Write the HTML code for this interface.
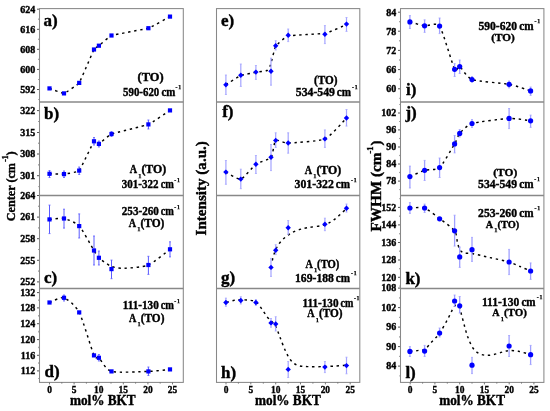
<!DOCTYPE html>
<html><head><meta charset="utf-8"><title>Figure</title><style>html,body{margin:0;padding:0;background:#fff;width:550px;height:411px;overflow:hidden}svg{display:block;filter:blur(0.3px)}</style></head><body>
<svg width="550" height="411" viewBox="0 0 550 411">
<rect width="550" height="411" fill="#ffffff"/>
<style>text{font-family:'Liberation Serif','Times New Roman',serif;font-weight:bold; fill:#000;stroke:#000;stroke-width:0.4px}.tk{font-size:10px}.lt{font-size:17px}.ax{font-size:13.5px}.sup{font-size:5.8px;letter-spacing:0.8px;stroke-width:0.25px}</style>
<line x1="37.0" y1="9.2" x2="39.5" y2="9.2" stroke="#555" stroke-width="1"/>
<text class="tk" x="35.3" y="12.5" text-anchor="end">624</text>
<line x1="37.0" y1="29.3" x2="39.5" y2="29.3" stroke="#555" stroke-width="1"/>
<text class="tk" x="35.3" y="32.6" text-anchor="end">616</text>
<line x1="37.0" y1="49.3" x2="39.5" y2="49.3" stroke="#555" stroke-width="1"/>
<text class="tk" x="35.3" y="52.6" text-anchor="end">608</text>
<line x1="37.0" y1="69.4" x2="39.5" y2="69.4" stroke="#555" stroke-width="1"/>
<text class="tk" x="35.3" y="72.7" text-anchor="end">600</text>
<line x1="37.0" y1="89.5" x2="39.5" y2="89.5" stroke="#555" stroke-width="1"/>
<text class="tk" x="35.3" y="92.8" text-anchor="end">592</text>
<line x1="38.0" y1="19.2" x2="39.5" y2="19.2" stroke="#999" stroke-width="0.8"/>
<line x1="38.0" y1="19.2" x2="39.5" y2="19.2" stroke="#999" stroke-width="0.8"/>
<line x1="38.0" y1="39.4" x2="39.5" y2="39.4" stroke="#999" stroke-width="0.8"/>
<line x1="38.0" y1="39.2" x2="39.5" y2="39.2" stroke="#999" stroke-width="0.8"/>
<line x1="38.0" y1="59.3" x2="39.5" y2="59.3" stroke="#999" stroke-width="0.8"/>
<line x1="38.0" y1="59.4" x2="39.5" y2="59.4" stroke="#999" stroke-width="0.8"/>
<line x1="38.0" y1="79.5" x2="39.5" y2="79.5" stroke="#999" stroke-width="0.8"/>
<line x1="38.0" y1="79.5" x2="39.5" y2="79.5" stroke="#999" stroke-width="0.8"/>
<line x1="38.0" y1="99.5" x2="39.5" y2="99.5" stroke="#999" stroke-width="0.8"/>
<path d="M49.5,88.4 C50.0,88.6 63.0,93.6 64.0,93.4 C65.0,93.2 78.2,84.4 79.2,82.9 C80.2,81.4 93.3,50.7 94.0,49.5 C94.7,48.3 98.3,46.2 98.9,45.7 C99.5,45.2 109.8,36.1 111.5,35.5 C113.2,34.9 146.5,28.8 148.4,28.2 C150.3,27.6 169.3,17.0 170.0,16.6" fill="none" stroke="#000" stroke-width="1.45" stroke-dasharray="2.4 3.7"/>
<rect x="47.4" y="86.3" width="4.2" height="4.2" fill="#0000ff"/>
<rect x="61.9" y="91.3" width="4.2" height="4.2" fill="#0000ff"/>
<rect x="77.1" y="80.8" width="4.2" height="4.2" fill="#0000ff"/>
<rect x="91.9" y="47.4" width="4.2" height="4.2" fill="#0000ff"/>
<rect x="96.8" y="43.6" width="4.2" height="4.2" fill="#0000ff"/>
<rect x="109.4" y="33.4" width="4.2" height="4.2" fill="#0000ff"/>
<rect x="146.3" y="26.1" width="4.2" height="4.2" fill="#0000ff"/>
<rect x="167.9" y="14.5" width="4.2" height="4.2" fill="#0000ff"/>
<text class="lt" x="43.4" y="25.5">a)</text>
<text class="an" style="font-size:11.60px" x="137.60" y="81.40" textLength="26.10" lengthAdjust="spacingAndGlyphs">(TO)</text>
<text class="an" style="font-size:12.40px" x="123.05" y="95.80" textLength="36.20" lengthAdjust="spacingAndGlyphs">590-620</text>
<text class="an" style="font-size:12.40px" x="161.45" y="95.80" textLength="13.90" lengthAdjust="spacingAndGlyphs">cm</text>
<text class="sup" x="175.60" y="89.40">-1</text>
<line x1="37.0" y1="110.6" x2="39.5" y2="110.6" stroke="#555" stroke-width="1"/>
<text class="tk" x="35.3" y="113.9" text-anchor="end">322</text>
<line x1="37.0" y1="132.5" x2="39.5" y2="132.5" stroke="#555" stroke-width="1"/>
<text class="tk" x="35.3" y="135.8" text-anchor="end">315</text>
<line x1="37.0" y1="154.0" x2="39.5" y2="154.0" stroke="#555" stroke-width="1"/>
<text class="tk" x="35.3" y="157.3" text-anchor="end">308</text>
<line x1="37.0" y1="175.7" x2="39.5" y2="175.7" stroke="#555" stroke-width="1"/>
<text class="tk" x="35.3" y="179.0" text-anchor="end">301</text>
<line x1="38.0" y1="121.5" x2="39.5" y2="121.5" stroke="#999" stroke-width="0.8"/>
<line x1="38.0" y1="121.5" x2="39.5" y2="121.5" stroke="#999" stroke-width="0.8"/>
<line x1="38.0" y1="143.4" x2="39.5" y2="143.4" stroke="#999" stroke-width="0.8"/>
<line x1="38.0" y1="143.1" x2="39.5" y2="143.1" stroke="#999" stroke-width="0.8"/>
<line x1="38.0" y1="164.9" x2="39.5" y2="164.9" stroke="#999" stroke-width="0.8"/>
<line x1="38.0" y1="164.8" x2="39.5" y2="164.8" stroke="#999" stroke-width="0.8"/>
<line x1="38.0" y1="186.6" x2="39.5" y2="186.6" stroke="#999" stroke-width="0.8"/>
<path d="M49.5,173.8 C50.2,173.8 62.5,174.3 64.0,174.1 C65.5,173.9 77.7,172.2 79.2,170.6 C80.7,169.0 93.0,142.6 94.0,141.3 C95.0,140.0 98.0,144.3 98.9,143.9 C99.8,143.5 109.0,135.0 111.5,134.0 C114.0,133.0 145.5,125.6 148.4,124.4 C151.3,123.2 168.9,111.1 170.0,110.4" fill="none" stroke="#000" stroke-width="1.45" stroke-dasharray="2.4 3.7"/>
<line x1="49.5" y1="170.5" x2="49.5" y2="177.5" stroke="#5a5aff" stroke-width="1.0"/>
<line x1="48.5" y1="170.5" x2="50.5" y2="170.5" stroke="#5a5aff" stroke-width="0.8"/>
<line x1="48.5" y1="177.5" x2="50.5" y2="177.5" stroke="#5a5aff" stroke-width="0.8"/>
<line x1="64.0" y1="171.0" x2="64.0" y2="177.5" stroke="#5a5aff" stroke-width="1.0"/>
<line x1="63.0" y1="171.0" x2="65.0" y2="171.0" stroke="#5a5aff" stroke-width="0.8"/>
<line x1="63.0" y1="177.5" x2="65.0" y2="177.5" stroke="#5a5aff" stroke-width="0.8"/>
<line x1="79.2" y1="167.0" x2="79.2" y2="174.5" stroke="#5a5aff" stroke-width="1.0"/>
<line x1="78.2" y1="167.0" x2="80.2" y2="167.0" stroke="#5a5aff" stroke-width="0.8"/>
<line x1="78.2" y1="174.5" x2="80.2" y2="174.5" stroke="#5a5aff" stroke-width="0.8"/>
<line x1="94.0" y1="137.5" x2="94.0" y2="145.0" stroke="#5a5aff" stroke-width="1.0"/>
<line x1="93.0" y1="137.5" x2="95.0" y2="137.5" stroke="#5a5aff" stroke-width="0.8"/>
<line x1="93.0" y1="145.0" x2="95.0" y2="145.0" stroke="#5a5aff" stroke-width="0.8"/>
<line x1="98.9" y1="141.0" x2="98.9" y2="147.0" stroke="#5a5aff" stroke-width="1.0"/>
<line x1="97.9" y1="141.0" x2="99.9" y2="141.0" stroke="#5a5aff" stroke-width="0.8"/>
<line x1="97.9" y1="147.0" x2="99.9" y2="147.0" stroke="#5a5aff" stroke-width="0.8"/>
<line x1="111.5" y1="131.5" x2="111.5" y2="136.5" stroke="#5a5aff" stroke-width="1.0"/>
<line x1="110.5" y1="131.5" x2="112.5" y2="131.5" stroke="#5a5aff" stroke-width="0.8"/>
<line x1="110.5" y1="136.5" x2="112.5" y2="136.5" stroke="#5a5aff" stroke-width="0.8"/>
<line x1="148.4" y1="120.0" x2="148.4" y2="129.0" stroke="#5a5aff" stroke-width="1.0"/>
<line x1="147.4" y1="120.0" x2="149.4" y2="120.0" stroke="#5a5aff" stroke-width="0.8"/>
<line x1="147.4" y1="129.0" x2="149.4" y2="129.0" stroke="#5a5aff" stroke-width="0.8"/>
<rect x="47.4" y="171.7" width="4.2" height="4.2" fill="#0000ff"/>
<rect x="61.9" y="172.0" width="4.2" height="4.2" fill="#0000ff"/>
<rect x="77.1" y="168.5" width="4.2" height="4.2" fill="#0000ff"/>
<rect x="91.9" y="139.2" width="4.2" height="4.2" fill="#0000ff"/>
<rect x="96.8" y="141.8" width="4.2" height="4.2" fill="#0000ff"/>
<rect x="109.4" y="131.9" width="4.2" height="4.2" fill="#0000ff"/>
<rect x="146.3" y="122.3" width="4.2" height="4.2" fill="#0000ff"/>
<rect x="167.9" y="108.3" width="4.2" height="4.2" fill="#0000ff"/>
<text class="lt" x="44.0" y="119.0">b)</text>
<text class="an" style="font-size:11.60px" x="129.70" y="173.20" textLength="7.3" lengthAdjust="spacingAndGlyphs">A</text>
<text class="an" style="font-size:6.4px;stroke-width:0.25px" x="138.20" y="177.80">1</text>
<text class="an" style="font-size:11.60px" x="141.40" y="173.20" textLength="24.90" lengthAdjust="spacingAndGlyphs">(TO)</text>
<text class="an" style="font-size:12.40px" x="121.75" y="187.80" textLength="36.80" lengthAdjust="spacingAndGlyphs">301-322</text>
<text class="an" style="font-size:12.40px" x="160.75" y="187.80" textLength="13.10" lengthAdjust="spacingAndGlyphs">cm</text>
<text class="sup" x="174.20" y="181.80">-1</text>
<line x1="37.0" y1="195.5" x2="39.5" y2="195.5" stroke="#555" stroke-width="1"/>
<text class="tk" x="35.3" y="198.8" text-anchor="end">264</text>
<line x1="37.0" y1="217.1" x2="39.5" y2="217.1" stroke="#555" stroke-width="1"/>
<text class="tk" x="35.3" y="220.4" text-anchor="end">261</text>
<line x1="37.0" y1="238.7" x2="39.5" y2="238.7" stroke="#555" stroke-width="1"/>
<text class="tk" x="35.3" y="242.0" text-anchor="end">258</text>
<line x1="37.0" y1="260.3" x2="39.5" y2="260.3" stroke="#555" stroke-width="1"/>
<text class="tk" x="35.3" y="263.6" text-anchor="end">255</text>
<line x1="37.0" y1="281.9" x2="39.5" y2="281.9" stroke="#555" stroke-width="1"/>
<text class="tk" x="35.3" y="285.2" text-anchor="end">252</text>
<line x1="38.0" y1="206.3" x2="39.5" y2="206.3" stroke="#999" stroke-width="0.8"/>
<line x1="38.0" y1="206.3" x2="39.5" y2="206.3" stroke="#999" stroke-width="0.8"/>
<line x1="38.0" y1="227.9" x2="39.5" y2="227.9" stroke="#999" stroke-width="0.8"/>
<line x1="38.0" y1="227.9" x2="39.5" y2="227.9" stroke="#999" stroke-width="0.8"/>
<line x1="38.0" y1="249.5" x2="39.5" y2="249.5" stroke="#999" stroke-width="0.8"/>
<line x1="38.0" y1="249.5" x2="39.5" y2="249.5" stroke="#999" stroke-width="0.8"/>
<line x1="38.0" y1="271.1" x2="39.5" y2="271.1" stroke="#999" stroke-width="0.8"/>
<line x1="38.0" y1="271.1" x2="39.5" y2="271.1" stroke="#999" stroke-width="0.8"/>
<path d="M49.5,219.4 C51.2,219.3 60.5,217.7 64.0,218.5 C67.5,219.3 75.7,222.4 79.2,226.1 C82.7,229.8 91.7,246.8 94.0,250.5 C96.3,254.2 96.9,255.9 98.9,257.8 C100.9,259.7 108.5,265.3 111.5,266.5 C114.5,267.7 120.7,268.4 125.0,268.2 C129.3,268.0 143.2,267.2 148.4,265.0 C153.7,262.8 167.5,251.1 170.0,249.3" fill="none" stroke="#000" stroke-width="1.45" stroke-dasharray="2.4 3.7"/>
<line x1="49.5" y1="205.1" x2="49.5" y2="233.6" stroke="#5a5aff" stroke-width="1.0"/>
<line x1="48.5" y1="205.1" x2="50.5" y2="205.1" stroke="#5a5aff" stroke-width="0.8"/>
<line x1="48.5" y1="233.6" x2="50.5" y2="233.6" stroke="#5a5aff" stroke-width="0.8"/>
<line x1="64.0" y1="209.2" x2="64.0" y2="228.1" stroke="#5a5aff" stroke-width="1.0"/>
<line x1="63.0" y1="209.2" x2="65.0" y2="209.2" stroke="#5a5aff" stroke-width="0.8"/>
<line x1="63.0" y1="228.1" x2="65.0" y2="228.1" stroke="#5a5aff" stroke-width="0.8"/>
<line x1="79.2" y1="213.9" x2="79.2" y2="238.0" stroke="#5a5aff" stroke-width="1.0"/>
<line x1="78.2" y1="213.9" x2="80.2" y2="213.9" stroke="#5a5aff" stroke-width="0.8"/>
<line x1="78.2" y1="238.0" x2="80.2" y2="238.0" stroke="#5a5aff" stroke-width="0.8"/>
<line x1="94.0" y1="236.0" x2="94.0" y2="265.0" stroke="#5a5aff" stroke-width="1.0"/>
<line x1="93.0" y1="236.0" x2="95.0" y2="236.0" stroke="#5a5aff" stroke-width="0.8"/>
<line x1="93.0" y1="265.0" x2="95.0" y2="265.0" stroke="#5a5aff" stroke-width="0.8"/>
<line x1="98.9" y1="251.0" x2="98.9" y2="265.0" stroke="#5a5aff" stroke-width="1.0"/>
<line x1="97.9" y1="251.0" x2="99.9" y2="251.0" stroke="#5a5aff" stroke-width="0.8"/>
<line x1="97.9" y1="265.0" x2="99.9" y2="265.0" stroke="#5a5aff" stroke-width="0.8"/>
<line x1="111.5" y1="260.1" x2="111.5" y2="278.7" stroke="#5a5aff" stroke-width="1.0"/>
<line x1="110.5" y1="260.1" x2="112.5" y2="260.1" stroke="#5a5aff" stroke-width="0.8"/>
<line x1="110.5" y1="278.7" x2="112.5" y2="278.7" stroke="#5a5aff" stroke-width="0.8"/>
<line x1="148.4" y1="256.3" x2="148.4" y2="274.4" stroke="#5a5aff" stroke-width="1.0"/>
<line x1="147.4" y1="256.3" x2="149.4" y2="256.3" stroke="#5a5aff" stroke-width="0.8"/>
<line x1="147.4" y1="274.4" x2="149.4" y2="274.4" stroke="#5a5aff" stroke-width="0.8"/>
<line x1="170.0" y1="241.8" x2="170.0" y2="256.9" stroke="#5a5aff" stroke-width="1.0"/>
<line x1="169.0" y1="241.8" x2="171.0" y2="241.8" stroke="#5a5aff" stroke-width="0.8"/>
<line x1="169.0" y1="256.9" x2="171.0" y2="256.9" stroke="#5a5aff" stroke-width="0.8"/>
<rect x="47.4" y="217.3" width="4.2" height="4.2" fill="#0000ff"/>
<rect x="61.9" y="216.4" width="4.2" height="4.2" fill="#0000ff"/>
<rect x="77.1" y="224.0" width="4.2" height="4.2" fill="#0000ff"/>
<rect x="91.9" y="248.4" width="4.2" height="4.2" fill="#0000ff"/>
<rect x="96.8" y="255.7" width="4.2" height="4.2" fill="#0000ff"/>
<rect x="109.4" y="267.0" width="4.2" height="4.2" fill="#0000ff"/>
<rect x="146.3" y="262.9" width="4.2" height="4.2" fill="#0000ff"/>
<rect x="167.9" y="247.2" width="4.2" height="4.2" fill="#0000ff"/>
<text class="lt" x="44.0" y="282.5">c)</text>
<text class="an" style="font-size:12.40px" x="121.75" y="214.90" textLength="37.10" lengthAdjust="spacingAndGlyphs">253-260</text>
<text class="an" style="font-size:12.40px" x="160.75" y="214.90" textLength="13.10" lengthAdjust="spacingAndGlyphs">cm</text>
<text class="sup" x="174.20" y="208.80">-1</text>
<text class="an" style="font-size:11.60px" x="128.80" y="226.70" textLength="7.3" lengthAdjust="spacingAndGlyphs">A</text>
<text class="an" style="font-size:6.4px;stroke-width:0.25px" x="137.30" y="231.30">1</text>
<text class="an" style="font-size:11.60px" x="140.50" y="226.70" textLength="23.90" lengthAdjust="spacingAndGlyphs">(TO)</text>
<line x1="37.0" y1="292.6" x2="39.5" y2="292.6" stroke="#555" stroke-width="1"/>
<text class="tk" x="35.3" y="295.9" text-anchor="end">132</text>
<line x1="37.0" y1="307.9" x2="39.5" y2="307.9" stroke="#555" stroke-width="1"/>
<text class="tk" x="35.3" y="311.2" text-anchor="end">128</text>
<line x1="37.0" y1="323.7" x2="39.5" y2="323.7" stroke="#555" stroke-width="1"/>
<text class="tk" x="35.3" y="327.0" text-anchor="end">124</text>
<line x1="37.0" y1="339.6" x2="39.5" y2="339.6" stroke="#555" stroke-width="1"/>
<text class="tk" x="35.3" y="342.9" text-anchor="end">120</text>
<line x1="37.0" y1="355.3" x2="39.5" y2="355.3" stroke="#555" stroke-width="1"/>
<text class="tk" x="35.3" y="358.6" text-anchor="end">116</text>
<line x1="37.0" y1="370.9" x2="39.5" y2="370.9" stroke="#555" stroke-width="1"/>
<text class="tk" x="35.3" y="374.2" text-anchor="end">112</text>
<line x1="38.0" y1="300.2" x2="39.5" y2="300.2" stroke="#999" stroke-width="0.8"/>
<line x1="38.0" y1="300.2" x2="39.5" y2="300.2" stroke="#999" stroke-width="0.8"/>
<line x1="38.0" y1="315.5" x2="39.5" y2="315.5" stroke="#999" stroke-width="0.8"/>
<line x1="38.0" y1="316.1" x2="39.5" y2="316.1" stroke="#999" stroke-width="0.8"/>
<line x1="38.0" y1="331.3" x2="39.5" y2="331.3" stroke="#999" stroke-width="0.8"/>
<line x1="38.0" y1="332.0" x2="39.5" y2="332.0" stroke="#999" stroke-width="0.8"/>
<line x1="38.0" y1="347.2" x2="39.5" y2="347.2" stroke="#999" stroke-width="0.8"/>
<line x1="38.0" y1="347.7" x2="39.5" y2="347.7" stroke="#999" stroke-width="0.8"/>
<line x1="38.0" y1="362.9" x2="39.5" y2="362.9" stroke="#999" stroke-width="0.8"/>
<line x1="38.0" y1="363.2" x2="39.5" y2="363.2" stroke="#999" stroke-width="0.8"/>
<line x1="38.0" y1="378.5" x2="39.5" y2="378.5" stroke="#999" stroke-width="0.8"/>
<path d="M49.5,302.5 C51.2,302.0 60.5,296.6 64.0,297.8 C67.5,299.0 75.7,305.7 79.2,312.4 C82.7,319.1 91.7,350.1 94.0,355.4 C96.3,360.7 96.9,355.9 98.9,357.8 C100.9,359.7 105.7,369.8 111.5,371.4 C117.3,373.0 141.6,371.6 148.4,371.4 C155.2,371.2 167.5,369.6 170.0,369.4" fill="none" stroke="#000" stroke-width="1.45" stroke-dasharray="2.4 3.7"/>
<line x1="64.0" y1="295.0" x2="64.0" y2="301.0" stroke="#5a5aff" stroke-width="1.0"/>
<line x1="63.0" y1="295.0" x2="65.0" y2="295.0" stroke="#5a5aff" stroke-width="0.8"/>
<line x1="63.0" y1="301.0" x2="65.0" y2="301.0" stroke="#5a5aff" stroke-width="0.8"/>
<line x1="98.9" y1="354.5" x2="98.9" y2="361.0" stroke="#5a5aff" stroke-width="1.0"/>
<line x1="97.9" y1="354.5" x2="99.9" y2="354.5" stroke="#5a5aff" stroke-width="0.8"/>
<line x1="97.9" y1="361.0" x2="99.9" y2="361.0" stroke="#5a5aff" stroke-width="0.8"/>
<line x1="148.4" y1="367.0" x2="148.4" y2="375.5" stroke="#5a5aff" stroke-width="1.0"/>
<line x1="147.4" y1="367.0" x2="149.4" y2="367.0" stroke="#5a5aff" stroke-width="0.8"/>
<line x1="147.4" y1="375.5" x2="149.4" y2="375.5" stroke="#5a5aff" stroke-width="0.8"/>
<rect x="47.4" y="300.4" width="4.2" height="4.2" fill="#0000ff"/>
<rect x="61.9" y="295.7" width="4.2" height="4.2" fill="#0000ff"/>
<rect x="77.1" y="310.3" width="4.2" height="4.2" fill="#0000ff"/>
<rect x="91.9" y="353.3" width="4.2" height="4.2" fill="#0000ff"/>
<rect x="96.8" y="355.7" width="4.2" height="4.2" fill="#0000ff"/>
<rect x="109.4" y="369.3" width="4.2" height="4.2" fill="#0000ff"/>
<rect x="146.3" y="369.3" width="4.2" height="4.2" fill="#0000ff"/>
<rect x="167.9" y="367.3" width="4.2" height="4.2" fill="#0000ff"/>
<text class="lt" x="44.5" y="377.3">d)</text>
<text class="an" style="font-size:12.40px" x="122.65" y="309.10" textLength="36.20" lengthAdjust="spacingAndGlyphs">111-130</text>
<text class="an" style="font-size:12.40px" x="160.65" y="309.10" textLength="13.20" lengthAdjust="spacingAndGlyphs">cm</text>
<text class="sup" x="174.20" y="302.50">-1</text>
<text class="an" style="font-size:11.60px" x="129.10" y="321.80" textLength="7.3" lengthAdjust="spacingAndGlyphs">A</text>
<text class="an" style="font-size:6.4px;stroke-width:0.25px" x="137.60" y="326.40">1</text>
<text class="an" style="font-size:11.60px" x="140.80" y="321.80" textLength="23.60" lengthAdjust="spacingAndGlyphs">(TO)</text>
<path d="M225.9,84.7 C226.9,84.1 238.8,76.3 240.8,75.5 C242.8,74.7 254.2,72.6 255.9,72.3 C257.6,72.0 266.0,71.0 267.0,70.5 C268.0,70.0 269.9,66.6 270.5,65.0 C271.1,63.4 274.5,48.4 275.7,46.5 C276.9,44.6 284.9,36.9 288.2,36.0 C291.5,35.1 321.5,34.0 325.4,33.2 C329.3,32.4 345.2,25.1 346.6,24.5" fill="none" stroke="#000" stroke-width="1.45" stroke-dasharray="2.4 3.7"/>
<line x1="225.9" y1="75.0" x2="225.9" y2="94.5" stroke="#a4a4ff" stroke-width="1.2"/>
<line x1="224.9" y1="75.0" x2="226.9" y2="75.0" stroke="#a4a4ff" stroke-width="0.8"/>
<line x1="224.9" y1="94.5" x2="226.9" y2="94.5" stroke="#a4a4ff" stroke-width="0.8"/>
<line x1="240.8" y1="64.0" x2="240.8" y2="86.4" stroke="#a4a4ff" stroke-width="1.2"/>
<line x1="239.8" y1="64.0" x2="241.8" y2="64.0" stroke="#a4a4ff" stroke-width="0.8"/>
<line x1="239.8" y1="86.4" x2="241.8" y2="86.4" stroke="#a4a4ff" stroke-width="0.8"/>
<line x1="255.9" y1="65.5" x2="255.9" y2="79.4" stroke="#a4a4ff" stroke-width="1.2"/>
<line x1="254.9" y1="65.5" x2="256.9" y2="65.5" stroke="#a4a4ff" stroke-width="0.8"/>
<line x1="254.9" y1="79.4" x2="256.9" y2="79.4" stroke="#a4a4ff" stroke-width="0.8"/>
<line x1="271.0" y1="58.2" x2="271.0" y2="85.2" stroke="#a4a4ff" stroke-width="1.2"/>
<line x1="270.0" y1="58.2" x2="272.0" y2="58.2" stroke="#a4a4ff" stroke-width="0.8"/>
<line x1="270.0" y1="85.2" x2="272.0" y2="85.2" stroke="#a4a4ff" stroke-width="0.8"/>
<line x1="275.7" y1="40.7" x2="275.7" y2="50.0" stroke="#a4a4ff" stroke-width="1.2"/>
<line x1="274.7" y1="40.7" x2="276.7" y2="40.7" stroke="#a4a4ff" stroke-width="0.8"/>
<line x1="274.7" y1="50.0" x2="276.7" y2="50.0" stroke="#a4a4ff" stroke-width="0.8"/>
<line x1="288.2" y1="29.0" x2="288.2" y2="41.6" stroke="#a4a4ff" stroke-width="1.2"/>
<line x1="287.2" y1="29.0" x2="289.2" y2="29.0" stroke="#a4a4ff" stroke-width="0.8"/>
<line x1="287.2" y1="41.6" x2="289.2" y2="41.6" stroke="#a4a4ff" stroke-width="0.8"/>
<line x1="324.9" y1="25.6" x2="324.9" y2="43.6" stroke="#a4a4ff" stroke-width="1.2"/>
<line x1="323.9" y1="25.6" x2="325.9" y2="25.6" stroke="#a4a4ff" stroke-width="0.8"/>
<line x1="323.9" y1="43.6" x2="325.9" y2="43.6" stroke="#a4a4ff" stroke-width="0.8"/>
<line x1="346.5" y1="17.5" x2="346.5" y2="31.4" stroke="#a4a4ff" stroke-width="1.2"/>
<line x1="345.5" y1="17.5" x2="347.5" y2="17.5" stroke="#a4a4ff" stroke-width="0.8"/>
<line x1="345.5" y1="31.4" x2="347.5" y2="31.4" stroke="#a4a4ff" stroke-width="0.8"/>
<path d="M225.9,82.0 L228.6,84.7 L225.9,87.4 L223.2,84.7 Z" fill="#0000ff"/>
<path d="M240.8,72.6 L243.5,75.3 L240.8,78.0 L238.1,75.3 Z" fill="#0000ff"/>
<path d="M255.9,69.4 L258.6,72.1 L255.9,74.8 L253.2,72.1 Z" fill="#0000ff"/>
<path d="M271.0,68.6 L273.7,71.3 L271.0,74.0 L268.3,71.3 Z" fill="#0000ff"/>
<path d="M275.7,43.0 L278.4,45.7 L275.7,48.4 L273.0,45.7 Z" fill="#0000ff"/>
<path d="M288.2,32.5 L290.9,35.2 L288.2,37.9 L285.5,35.2 Z" fill="#0000ff"/>
<path d="M324.9,31.6 L327.6,34.3 L324.9,37.0 L322.2,34.3 Z" fill="#0000ff"/>
<path d="M346.5,21.4 L349.2,24.1 L346.5,26.8 L343.8,24.1 Z" fill="#0000ff"/>
<text class="lt" x="220.9" y="26.0">e)</text>
<text class="an" style="font-size:11.60px" x="313.90" y="84.00" textLength="23.50" lengthAdjust="spacingAndGlyphs">(TO)</text>
<text class="an" style="font-size:12.40px" x="295.85" y="96.10" textLength="39.10" lengthAdjust="spacingAndGlyphs">534-549</text>
<text class="an" style="font-size:12.40px" x="336.85" y="96.10" textLength="14.20" lengthAdjust="spacingAndGlyphs">cm</text>
<text class="sup" x="352.10" y="89.10">-1</text>
<path d="M225.9,172.1 C227.4,172.8 237.8,179.9 240.8,179.1 C243.8,178.3 252.9,166.4 255.9,164.2 C258.9,162.0 269.0,159.7 271.0,157.3 C273.0,154.9 274.0,141.8 275.7,140.4 C277.4,139.0 283.3,143.2 288.2,143.0 C293.1,142.8 319.1,141.4 324.9,138.9 C330.7,136.4 344.3,120.1 346.5,118.0" fill="none" stroke="#000" stroke-width="1.45" stroke-dasharray="2.4 3.7"/>
<line x1="225.9" y1="160.5" x2="225.9" y2="184.3" stroke="#a4a4ff" stroke-width="1.2"/>
<line x1="224.9" y1="160.5" x2="226.9" y2="160.5" stroke="#a4a4ff" stroke-width="0.8"/>
<line x1="224.9" y1="184.3" x2="226.9" y2="184.3" stroke="#a4a4ff" stroke-width="0.8"/>
<line x1="240.8" y1="169.2" x2="240.8" y2="188.7" stroke="#a4a4ff" stroke-width="1.2"/>
<line x1="239.8" y1="169.2" x2="241.8" y2="169.2" stroke="#a4a4ff" stroke-width="0.8"/>
<line x1="239.8" y1="188.7" x2="241.8" y2="188.7" stroke="#a4a4ff" stroke-width="0.8"/>
<line x1="255.9" y1="155.5" x2="255.9" y2="173.5" stroke="#a4a4ff" stroke-width="1.2"/>
<line x1="254.9" y1="155.5" x2="256.9" y2="155.5" stroke="#a4a4ff" stroke-width="0.8"/>
<line x1="254.9" y1="173.5" x2="256.9" y2="173.5" stroke="#a4a4ff" stroke-width="0.8"/>
<line x1="271.0" y1="144.5" x2="271.0" y2="170.6" stroke="#a4a4ff" stroke-width="1.2"/>
<line x1="270.0" y1="144.5" x2="272.0" y2="144.5" stroke="#a4a4ff" stroke-width="0.8"/>
<line x1="270.0" y1="170.6" x2="272.0" y2="170.6" stroke="#a4a4ff" stroke-width="0.8"/>
<line x1="275.7" y1="132.8" x2="275.7" y2="147.4" stroke="#a4a4ff" stroke-width="1.2"/>
<line x1="274.7" y1="132.8" x2="276.7" y2="132.8" stroke="#a4a4ff" stroke-width="0.8"/>
<line x1="274.7" y1="147.4" x2="276.7" y2="147.4" stroke="#a4a4ff" stroke-width="0.8"/>
<line x1="288.2" y1="132.8" x2="288.2" y2="153.2" stroke="#a4a4ff" stroke-width="1.2"/>
<line x1="287.2" y1="132.8" x2="289.2" y2="132.8" stroke="#a4a4ff" stroke-width="0.8"/>
<line x1="287.2" y1="153.2" x2="289.2" y2="153.2" stroke="#a4a4ff" stroke-width="0.8"/>
<line x1="324.9" y1="129.9" x2="324.9" y2="147.4" stroke="#a4a4ff" stroke-width="1.2"/>
<line x1="323.9" y1="129.9" x2="325.9" y2="129.9" stroke="#a4a4ff" stroke-width="0.8"/>
<line x1="323.9" y1="147.4" x2="325.9" y2="147.4" stroke="#a4a4ff" stroke-width="0.8"/>
<line x1="346.5" y1="109.5" x2="346.5" y2="126.1" stroke="#a4a4ff" stroke-width="1.2"/>
<line x1="345.5" y1="109.5" x2="347.5" y2="109.5" stroke="#a4a4ff" stroke-width="0.8"/>
<line x1="345.5" y1="126.1" x2="347.5" y2="126.1" stroke="#a4a4ff" stroke-width="0.8"/>
<path d="M225.9,169.4 L228.6,172.1 L225.9,174.8 L223.2,172.1 Z" fill="#0000ff"/>
<path d="M240.8,176.4 L243.5,179.1 L240.8,181.8 L238.1,179.1 Z" fill="#0000ff"/>
<path d="M255.9,161.5 L258.6,164.2 L255.9,166.9 L253.2,164.2 Z" fill="#0000ff"/>
<path d="M271.0,154.6 L273.7,157.3 L271.0,160.0 L268.3,157.3 Z" fill="#0000ff"/>
<path d="M275.7,137.7 L278.4,140.4 L275.7,143.1 L273.0,140.4 Z" fill="#0000ff"/>
<path d="M288.2,140.3 L290.9,143.0 L288.2,145.7 L285.5,143.0 Z" fill="#0000ff"/>
<path d="M324.9,136.2 L327.6,138.9 L324.9,141.6 L322.2,138.9 Z" fill="#0000ff"/>
<path d="M346.5,115.3 L349.2,118.0 L346.5,120.7 L343.8,118.0 Z" fill="#0000ff"/>
<text class="lt" x="222.2" y="117.3">f)</text>
<text class="an" style="font-size:11.60px" x="304.70" y="173.80" textLength="7.3" lengthAdjust="spacingAndGlyphs">A</text>
<text class="an" style="font-size:6.4px;stroke-width:0.25px" x="313.20" y="178.40">1</text>
<text class="an" style="font-size:11.60px" x="316.40" y="173.80" textLength="24.90" lengthAdjust="spacingAndGlyphs">(TO)</text>
<text class="an" style="font-size:12.40px" x="294.55" y="188.40" textLength="39.30" lengthAdjust="spacingAndGlyphs">301-322</text>
<text class="an" style="font-size:12.40px" x="335.75" y="188.40" textLength="14.20" lengthAdjust="spacingAndGlyphs">cm</text>
<text class="sup" x="351.00" y="181.80">-1</text>
<path d="M272.3,260.5 C272.6,259.4 273.2,256.3 274.1,253.9 C275.0,251.5 276.1,248.5 277.5,246.1 C278.9,243.7 280.8,241.5 282.8,239.5 C284.8,237.5 286.9,235.8 289.3,234.3 C291.7,232.8 294.1,231.4 297.2,230.3 C300.2,229.2 303.2,228.6 307.6,227.7 C312.0,226.8 319.0,226.4 323.4,225.1 C327.8,223.8 330.1,222.5 333.8,219.9 C337.5,217.3 343.6,211.2 345.6,209.4" fill="none" stroke="#000" stroke-width="1.45" stroke-dasharray="2.4 3.7"/>
<line x1="271.0" y1="258.4" x2="271.0" y2="276.4" stroke="#a4a4ff" stroke-width="1.2"/>
<line x1="270.0" y1="258.4" x2="272.0" y2="258.4" stroke="#a4a4ff" stroke-width="0.8"/>
<line x1="270.0" y1="276.4" x2="272.0" y2="276.4" stroke="#a4a4ff" stroke-width="0.8"/>
<line x1="275.7" y1="244.7" x2="275.7" y2="254.6" stroke="#a4a4ff" stroke-width="1.2"/>
<line x1="274.7" y1="244.7" x2="276.7" y2="244.7" stroke="#a4a4ff" stroke-width="0.8"/>
<line x1="274.7" y1="254.6" x2="276.7" y2="254.6" stroke="#a4a4ff" stroke-width="0.8"/>
<line x1="288.2" y1="220.5" x2="288.2" y2="234.2" stroke="#a4a4ff" stroke-width="1.2"/>
<line x1="287.2" y1="220.5" x2="289.2" y2="220.5" stroke="#a4a4ff" stroke-width="0.8"/>
<line x1="287.2" y1="234.2" x2="289.2" y2="234.2" stroke="#a4a4ff" stroke-width="0.8"/>
<line x1="324.9" y1="218.2" x2="324.9" y2="230.7" stroke="#a4a4ff" stroke-width="1.2"/>
<line x1="323.9" y1="218.2" x2="325.9" y2="218.2" stroke="#a4a4ff" stroke-width="0.8"/>
<line x1="323.9" y1="230.7" x2="325.9" y2="230.7" stroke="#a4a4ff" stroke-width="0.8"/>
<line x1="346.5" y1="204.0" x2="346.5" y2="212.1" stroke="#a4a4ff" stroke-width="1.2"/>
<line x1="345.5" y1="204.0" x2="347.5" y2="204.0" stroke="#a4a4ff" stroke-width="0.8"/>
<line x1="345.5" y1="212.1" x2="347.5" y2="212.1" stroke="#a4a4ff" stroke-width="0.8"/>
<path d="M271.0,264.7 L273.7,267.4 L271.0,270.1 L268.3,267.4 Z" fill="#0000ff"/>
<path d="M275.7,247.5 L278.4,250.2 L275.7,252.9 L273.0,250.2 Z" fill="#0000ff"/>
<path d="M288.2,225.1 L290.9,227.8 L288.2,230.5 L285.5,227.8 Z" fill="#0000ff"/>
<path d="M324.9,221.6 L327.6,224.3 L324.9,227.0 L322.2,224.3 Z" fill="#0000ff"/>
<path d="M346.5,205.6 L349.2,208.3 L346.5,211.0 L343.8,208.3 Z" fill="#0000ff"/>
<text class="lt" x="220.9" y="283.0">g)</text>
<text class="an" style="font-size:11.60px" x="305.40" y="267.80" textLength="7.3" lengthAdjust="spacingAndGlyphs">A</text>
<text class="an" style="font-size:6.4px;stroke-width:0.25px" x="313.90" y="272.40">1</text>
<text class="an" style="font-size:11.60px" x="317.10" y="267.80" textLength="22.30" lengthAdjust="spacingAndGlyphs">(TO)</text>
<text class="an" style="font-size:12.40px" x="295.05" y="282.20" textLength="38.80" lengthAdjust="spacingAndGlyphs">169-188</text>
<text class="an" style="font-size:12.40px" x="335.75" y="282.20" textLength="14.20" lengthAdjust="spacingAndGlyphs">cm</text>
<text class="sup" x="351.00" y="275.40">-1</text>
<path d="M226.5,302.4 C227.8,302.0 231.9,300.7 234.3,300.3 C236.7,299.9 238.3,299.8 240.9,299.8 C243.5,299.8 247.4,299.9 250.0,300.3 C252.6,300.7 254.6,300.9 256.6,302.4 C258.6,303.8 260.1,306.6 261.8,309.0 C263.6,311.4 265.4,314.6 267.1,316.8 C268.9,319.0 270.8,320.2 272.3,322.0 C273.8,323.8 274.9,324.7 276.2,327.3 C277.5,329.9 278.7,333.9 280.2,337.8 C281.7,341.7 283.7,347.1 285.4,350.8 C287.1,354.5 288.6,357.6 290.6,360.0 C292.6,362.4 294.4,364.1 297.2,365.2 C300.0,366.3 303.2,366.4 307.6,366.6 C312.0,366.8 318.6,366.7 323.4,366.6 C328.2,366.5 332.8,366.2 336.5,366.0 C340.2,365.8 344.1,365.3 345.6,365.2" fill="none" stroke="#000" stroke-width="1.45" stroke-dasharray="2.4 3.7"/>
<line x1="225.9" y1="298.1" x2="225.9" y2="306.3" stroke="#a4a4ff" stroke-width="1.2"/>
<line x1="224.9" y1="298.1" x2="226.9" y2="298.1" stroke="#a4a4ff" stroke-width="0.8"/>
<line x1="224.9" y1="306.3" x2="226.9" y2="306.3" stroke="#a4a4ff" stroke-width="0.8"/>
<line x1="240.8" y1="296.7" x2="240.8" y2="304.0" stroke="#a4a4ff" stroke-width="1.2"/>
<line x1="239.8" y1="296.7" x2="241.8" y2="296.7" stroke="#a4a4ff" stroke-width="0.8"/>
<line x1="239.8" y1="304.0" x2="241.8" y2="304.0" stroke="#a4a4ff" stroke-width="0.8"/>
<line x1="255.9" y1="299.6" x2="255.9" y2="305.4" stroke="#a4a4ff" stroke-width="1.2"/>
<line x1="254.9" y1="299.6" x2="256.9" y2="299.6" stroke="#a4a4ff" stroke-width="0.8"/>
<line x1="254.9" y1="305.4" x2="256.9" y2="305.4" stroke="#a4a4ff" stroke-width="0.8"/>
<line x1="271.0" y1="318.5" x2="271.0" y2="327.2" stroke="#a4a4ff" stroke-width="1.2"/>
<line x1="270.0" y1="318.5" x2="272.0" y2="318.5" stroke="#a4a4ff" stroke-width="0.8"/>
<line x1="270.0" y1="327.2" x2="272.0" y2="327.2" stroke="#a4a4ff" stroke-width="0.8"/>
<line x1="275.7" y1="316.7" x2="275.7" y2="331.0" stroke="#a4a4ff" stroke-width="1.2"/>
<line x1="274.7" y1="316.7" x2="276.7" y2="316.7" stroke="#a4a4ff" stroke-width="0.8"/>
<line x1="274.7" y1="331.0" x2="276.7" y2="331.0" stroke="#a4a4ff" stroke-width="0.8"/>
<line x1="288.2" y1="361.5" x2="288.2" y2="377.5" stroke="#a4a4ff" stroke-width="1.2"/>
<line x1="287.2" y1="361.5" x2="289.2" y2="361.5" stroke="#a4a4ff" stroke-width="0.8"/>
<line x1="287.2" y1="377.5" x2="289.2" y2="377.5" stroke="#a4a4ff" stroke-width="0.8"/>
<line x1="324.9" y1="361.5" x2="324.9" y2="372.6" stroke="#a4a4ff" stroke-width="1.2"/>
<line x1="323.9" y1="361.5" x2="325.9" y2="361.5" stroke="#a4a4ff" stroke-width="0.8"/>
<line x1="323.9" y1="372.6" x2="325.9" y2="372.6" stroke="#a4a4ff" stroke-width="0.8"/>
<line x1="346.5" y1="357.2" x2="346.5" y2="373.8" stroke="#a4a4ff" stroke-width="1.2"/>
<line x1="345.5" y1="357.2" x2="347.5" y2="357.2" stroke="#a4a4ff" stroke-width="0.8"/>
<line x1="345.5" y1="373.8" x2="347.5" y2="373.8" stroke="#a4a4ff" stroke-width="0.8"/>
<path d="M225.9,299.8 L228.6,302.5 L225.9,305.2 L223.2,302.5 Z" fill="#0000ff"/>
<path d="M240.8,297.8 L243.5,300.5 L240.8,303.2 L238.1,300.5 Z" fill="#0000ff"/>
<path d="M255.9,299.8 L258.6,302.5 L255.9,305.2 L253.2,302.5 Z" fill="#0000ff"/>
<path d="M271.0,320.2 L273.7,322.9 L271.0,325.6 L268.3,322.9 Z" fill="#0000ff"/>
<path d="M275.7,321.3 L278.4,324.0 L275.7,326.7 L273.0,324.0 Z" fill="#0000ff"/>
<path d="M288.2,366.7 L290.9,369.4 L288.2,372.1 L285.5,369.4 Z" fill="#0000ff"/>
<path d="M324.9,364.4 L327.6,367.1 L324.9,369.8 L322.2,367.1 Z" fill="#0000ff"/>
<path d="M346.5,362.9 L349.2,365.6 L346.5,368.3 L343.8,365.6 Z" fill="#0000ff"/>
<text class="lt" x="221.0" y="377.5">h)</text>
<text class="an" style="font-size:12.40px" x="302.45" y="306.60" textLength="36.10" lengthAdjust="spacingAndGlyphs">111-130</text>
<text class="an" style="font-size:12.40px" x="340.45" y="306.60" textLength="12.80" lengthAdjust="spacingAndGlyphs">cm</text>
<text class="sup" x="353.90" y="300.20">-1</text>
<text class="an" style="font-size:11.60px" x="307.30" y="317.10" textLength="7.3" lengthAdjust="spacingAndGlyphs">A</text>
<text class="an" style="font-size:6.4px;stroke-width:0.25px" x="315.80" y="321.70">1</text>
<text class="an" style="font-size:11.60px" x="319.00" y="317.10" textLength="23.60" lengthAdjust="spacingAndGlyphs">(TO)</text>
<line x1="398.0" y1="12.2" x2="400.5" y2="12.2" stroke="#555" stroke-width="1"/>
<text class="tk" x="396.3" y="15.5" text-anchor="end">84</text>
<line x1="398.0" y1="31.2" x2="400.5" y2="31.2" stroke="#555" stroke-width="1"/>
<text class="tk" x="396.3" y="34.5" text-anchor="end">78</text>
<line x1="398.0" y1="50.4" x2="400.5" y2="50.4" stroke="#555" stroke-width="1"/>
<text class="tk" x="396.3" y="53.7" text-anchor="end">72</text>
<line x1="398.0" y1="69.6" x2="400.5" y2="69.6" stroke="#555" stroke-width="1"/>
<text class="tk" x="396.3" y="72.9" text-anchor="end">66</text>
<line x1="398.0" y1="88.8" x2="400.5" y2="88.8" stroke="#555" stroke-width="1"/>
<text class="tk" x="396.3" y="92.1" text-anchor="end">60</text>
<line x1="399.0" y1="21.7" x2="400.5" y2="21.7" stroke="#999" stroke-width="0.8"/>
<line x1="399.0" y1="21.7" x2="400.5" y2="21.7" stroke="#999" stroke-width="0.8"/>
<line x1="399.0" y1="40.7" x2="400.5" y2="40.7" stroke="#999" stroke-width="0.8"/>
<line x1="399.0" y1="40.9" x2="400.5" y2="40.9" stroke="#999" stroke-width="0.8"/>
<line x1="399.0" y1="59.9" x2="400.5" y2="59.9" stroke="#999" stroke-width="0.8"/>
<line x1="399.0" y1="60.1" x2="400.5" y2="60.1" stroke="#999" stroke-width="0.8"/>
<line x1="399.0" y1="79.1" x2="400.5" y2="79.1" stroke="#999" stroke-width="0.8"/>
<line x1="399.0" y1="79.3" x2="400.5" y2="79.3" stroke="#999" stroke-width="0.8"/>
<line x1="399.0" y1="98.3" x2="400.5" y2="98.3" stroke="#999" stroke-width="0.8"/>
<path d="M409.9,21.9 C411.4,22.3 421.6,25.4 424.6,25.8 C427.6,26.2 436.6,21.8 439.6,26.1 C442.6,30.5 452.6,65.2 454.6,69.3 C456.6,73.3 458.0,65.6 459.7,66.6 C461.4,67.6 467.1,77.7 472.0,79.5 C476.9,81.3 503.2,83.2 509.1,84.3 C515.0,85.4 528.5,90.2 530.6,90.9" fill="none" stroke="#000" stroke-width="1.45" stroke-dasharray="2.4 3.7"/>
<line x1="409.9" y1="15.6" x2="409.9" y2="28.5" stroke="#a0a0ff" stroke-width="1.3"/>
<line x1="408.9" y1="15.6" x2="410.9" y2="15.6" stroke="#a0a0ff" stroke-width="0.8"/>
<line x1="408.9" y1="28.5" x2="410.9" y2="28.5" stroke="#a0a0ff" stroke-width="0.8"/>
<line x1="424.6" y1="19.8" x2="424.6" y2="32.4" stroke="#a0a0ff" stroke-width="1.3"/>
<line x1="423.6" y1="19.8" x2="425.6" y2="19.8" stroke="#a0a0ff" stroke-width="0.8"/>
<line x1="423.6" y1="32.4" x2="425.6" y2="32.4" stroke="#a0a0ff" stroke-width="0.8"/>
<line x1="439.6" y1="18.0" x2="439.6" y2="33.6" stroke="#a0a0ff" stroke-width="1.3"/>
<line x1="438.6" y1="18.0" x2="440.6" y2="18.0" stroke="#a0a0ff" stroke-width="0.8"/>
<line x1="438.6" y1="33.6" x2="440.6" y2="33.6" stroke="#a0a0ff" stroke-width="0.8"/>
<line x1="454.6" y1="63.6" x2="454.6" y2="76.5" stroke="#a0a0ff" stroke-width="1.3"/>
<line x1="453.6" y1="63.6" x2="455.6" y2="63.6" stroke="#a0a0ff" stroke-width="0.8"/>
<line x1="453.6" y1="76.5" x2="455.6" y2="76.5" stroke="#a0a0ff" stroke-width="0.8"/>
<line x1="459.7" y1="60.0" x2="459.7" y2="73.5" stroke="#a0a0ff" stroke-width="1.3"/>
<line x1="458.7" y1="60.0" x2="460.7" y2="60.0" stroke="#a0a0ff" stroke-width="0.8"/>
<line x1="458.7" y1="73.5" x2="460.7" y2="73.5" stroke="#a0a0ff" stroke-width="0.8"/>
<line x1="472.0" y1="76.5" x2="472.0" y2="82.5" stroke="#a0a0ff" stroke-width="1.3"/>
<line x1="471.0" y1="76.5" x2="473.0" y2="76.5" stroke="#a0a0ff" stroke-width="0.8"/>
<line x1="471.0" y1="82.5" x2="473.0" y2="82.5" stroke="#a0a0ff" stroke-width="0.8"/>
<line x1="509.1" y1="81.0" x2="509.1" y2="87.9" stroke="#a0a0ff" stroke-width="1.3"/>
<line x1="508.1" y1="81.0" x2="510.1" y2="81.0" stroke="#a0a0ff" stroke-width="0.8"/>
<line x1="508.1" y1="87.9" x2="510.1" y2="87.9" stroke="#a0a0ff" stroke-width="0.8"/>
<line x1="530.6" y1="87.0" x2="530.6" y2="95.4" stroke="#a0a0ff" stroke-width="1.3"/>
<line x1="529.6" y1="87.0" x2="531.6" y2="87.0" stroke="#a0a0ff" stroke-width="0.8"/>
<line x1="529.6" y1="95.4" x2="531.6" y2="95.4" stroke="#a0a0ff" stroke-width="0.8"/>
<circle cx="409.9" cy="21.9" r="2.6" fill="#0000ff"/>
<circle cx="424.6" cy="25.8" r="2.6" fill="#0000ff"/>
<circle cx="439.6" cy="26.1" r="2.6" fill="#0000ff"/>
<circle cx="454.6" cy="69.3" r="2.6" fill="#0000ff"/>
<circle cx="459.7" cy="66.6" r="2.6" fill="#0000ff"/>
<circle cx="472.0" cy="79.5" r="2.6" fill="#0000ff"/>
<circle cx="509.1" cy="84.3" r="2.6" fill="#0000ff"/>
<circle cx="530.6" cy="90.9" r="2.6" fill="#0000ff"/>
<text class="lt" x="406.0" y="94.6">i)</text>
<text class="an" style="font-size:12.40px" x="478.45" y="30.20" textLength="38.60" lengthAdjust="spacingAndGlyphs">590-620</text>
<text class="an" style="font-size:12.40px" x="519.25" y="30.20" textLength="14.30" lengthAdjust="spacingAndGlyphs">cm</text>
<text class="sup" x="534.50" y="23.40">-1</text>
<text class="an" style="font-size:11.20px" x="491.20" y="41.00" textLength="23.50" lengthAdjust="spacingAndGlyphs">(TO)</text>
<line x1="398.0" y1="113.0" x2="400.5" y2="113.0" stroke="#555" stroke-width="1"/>
<text class="tk" x="396.3" y="116.3" text-anchor="end">102</text>
<line x1="398.0" y1="129.9" x2="400.5" y2="129.9" stroke="#555" stroke-width="1"/>
<text class="tk" x="396.3" y="133.2" text-anchor="end">96</text>
<line x1="398.0" y1="147.0" x2="400.5" y2="147.0" stroke="#555" stroke-width="1"/>
<text class="tk" x="396.3" y="150.3" text-anchor="end">90</text>
<line x1="398.0" y1="164.0" x2="400.5" y2="164.0" stroke="#555" stroke-width="1"/>
<text class="tk" x="396.3" y="167.3" text-anchor="end">84</text>
<line x1="398.0" y1="181.1" x2="400.5" y2="181.1" stroke="#555" stroke-width="1"/>
<text class="tk" x="396.3" y="184.4" text-anchor="end">78</text>
<line x1="399.0" y1="104.5" x2="400.5" y2="104.5" stroke="#999" stroke-width="0.8"/>
<line x1="399.0" y1="121.5" x2="400.5" y2="121.5" stroke="#999" stroke-width="0.8"/>
<line x1="399.0" y1="121.5" x2="400.5" y2="121.5" stroke="#999" stroke-width="0.8"/>
<line x1="399.0" y1="138.4" x2="400.5" y2="138.4" stroke="#999" stroke-width="0.8"/>
<line x1="399.0" y1="138.6" x2="400.5" y2="138.6" stroke="#999" stroke-width="0.8"/>
<line x1="399.0" y1="155.4" x2="400.5" y2="155.4" stroke="#999" stroke-width="0.8"/>
<line x1="399.0" y1="155.6" x2="400.5" y2="155.6" stroke="#999" stroke-width="0.8"/>
<line x1="399.0" y1="172.4" x2="400.5" y2="172.4" stroke="#999" stroke-width="0.8"/>
<line x1="399.0" y1="172.6" x2="400.5" y2="172.6" stroke="#999" stroke-width="0.8"/>
<line x1="399.0" y1="189.6" x2="400.5" y2="189.6" stroke="#999" stroke-width="0.8"/>
<path d="M409.9,176.6 C411.4,176.0 421.6,171.2 424.6,170.3 C427.6,169.4 436.6,170.2 439.6,167.6 C442.6,165.0 452.6,147.3 454.6,143.9 C456.6,140.5 458.0,135.4 459.7,133.4 C461.4,131.4 467.1,125.0 472.0,123.5 C476.9,122.0 503.2,118.7 509.1,118.4 C515.0,118.1 528.5,120.6 530.6,120.8" fill="none" stroke="#000" stroke-width="1.45" stroke-dasharray="2.4 3.7"/>
<line x1="409.9" y1="166.1" x2="409.9" y2="188.0" stroke="#a0a0ff" stroke-width="1.3"/>
<line x1="408.9" y1="166.1" x2="410.9" y2="166.1" stroke="#a0a0ff" stroke-width="0.8"/>
<line x1="408.9" y1="188.0" x2="410.9" y2="188.0" stroke="#a0a0ff" stroke-width="0.8"/>
<line x1="424.6" y1="160.4" x2="424.6" y2="180.5" stroke="#a0a0ff" stroke-width="1.3"/>
<line x1="423.6" y1="160.4" x2="425.6" y2="160.4" stroke="#a0a0ff" stroke-width="0.8"/>
<line x1="423.6" y1="180.5" x2="425.6" y2="180.5" stroke="#a0a0ff" stroke-width="0.8"/>
<line x1="439.6" y1="158.0" x2="439.6" y2="177.5" stroke="#a0a0ff" stroke-width="1.3"/>
<line x1="438.6" y1="158.0" x2="440.6" y2="158.0" stroke="#a0a0ff" stroke-width="0.8"/>
<line x1="438.6" y1="177.5" x2="440.6" y2="177.5" stroke="#a0a0ff" stroke-width="0.8"/>
<line x1="454.6" y1="135.5" x2="454.6" y2="152.9" stroke="#a0a0ff" stroke-width="1.3"/>
<line x1="453.6" y1="135.5" x2="455.6" y2="135.5" stroke="#a0a0ff" stroke-width="0.8"/>
<line x1="453.6" y1="152.9" x2="455.6" y2="152.9" stroke="#a0a0ff" stroke-width="0.8"/>
<line x1="459.7" y1="129.5" x2="459.7" y2="137.0" stroke="#a0a0ff" stroke-width="1.3"/>
<line x1="458.7" y1="129.5" x2="460.7" y2="129.5" stroke="#a0a0ff" stroke-width="0.8"/>
<line x1="458.7" y1="137.0" x2="460.7" y2="137.0" stroke="#a0a0ff" stroke-width="0.8"/>
<line x1="472.0" y1="119.6" x2="472.0" y2="127.4" stroke="#a0a0ff" stroke-width="1.3"/>
<line x1="471.0" y1="119.6" x2="473.0" y2="119.6" stroke="#a0a0ff" stroke-width="0.8"/>
<line x1="471.0" y1="127.4" x2="473.0" y2="127.4" stroke="#a0a0ff" stroke-width="0.8"/>
<line x1="509.1" y1="108.5" x2="509.1" y2="128.6" stroke="#a0a0ff" stroke-width="1.3"/>
<line x1="508.1" y1="108.5" x2="510.1" y2="108.5" stroke="#a0a0ff" stroke-width="0.8"/>
<line x1="508.1" y1="128.6" x2="510.1" y2="128.6" stroke="#a0a0ff" stroke-width="0.8"/>
<line x1="530.6" y1="115.1" x2="530.6" y2="127.4" stroke="#a0a0ff" stroke-width="1.3"/>
<line x1="529.6" y1="115.1" x2="531.6" y2="115.1" stroke="#a0a0ff" stroke-width="0.8"/>
<line x1="529.6" y1="127.4" x2="531.6" y2="127.4" stroke="#a0a0ff" stroke-width="0.8"/>
<circle cx="409.9" cy="176.6" r="2.6" fill="#0000ff"/>
<circle cx="424.6" cy="170.3" r="2.6" fill="#0000ff"/>
<circle cx="439.6" cy="167.6" r="2.6" fill="#0000ff"/>
<circle cx="454.6" cy="143.9" r="2.6" fill="#0000ff"/>
<circle cx="459.7" cy="133.4" r="2.6" fill="#0000ff"/>
<circle cx="472.0" cy="123.5" r="2.6" fill="#0000ff"/>
<circle cx="509.1" cy="118.4" r="2.6" fill="#0000ff"/>
<circle cx="530.6" cy="120.8" r="2.6" fill="#0000ff"/>
<text class="lt" x="405.4" y="117.5">j)</text>
<text class="an" style="font-size:11.20px" x="493.30" y="175.80" textLength="23.90" lengthAdjust="spacingAndGlyphs">(TO)</text>
<text class="an" style="font-size:12.40px" x="478.05" y="187.60" textLength="39.00" lengthAdjust="spacingAndGlyphs">534-549</text>
<text class="an" style="font-size:12.40px" x="519.25" y="187.60" textLength="14.30" lengthAdjust="spacingAndGlyphs">cm</text>
<text class="sup" x="534.20" y="181.20">-1</text>
<line x1="398.0" y1="207.4" x2="400.5" y2="207.4" stroke="#555" stroke-width="1"/>
<text class="tk" x="396.3" y="210.7" text-anchor="end">152</text>
<line x1="398.0" y1="224.9" x2="400.5" y2="224.9" stroke="#555" stroke-width="1"/>
<text class="tk" x="396.3" y="228.2" text-anchor="end">144</text>
<line x1="398.0" y1="242.5" x2="400.5" y2="242.5" stroke="#555" stroke-width="1"/>
<text class="tk" x="396.3" y="245.8" text-anchor="end">136</text>
<line x1="398.0" y1="260.0" x2="400.5" y2="260.0" stroke="#555" stroke-width="1"/>
<text class="tk" x="396.3" y="263.3" text-anchor="end">128</text>
<line x1="398.0" y1="277.3" x2="400.5" y2="277.3" stroke="#555" stroke-width="1"/>
<text class="tk" x="396.3" y="280.6" text-anchor="end">120</text>
<line x1="399.0" y1="198.7" x2="400.5" y2="198.7" stroke="#999" stroke-width="0.8"/>
<line x1="399.0" y1="216.2" x2="400.5" y2="216.2" stroke="#999" stroke-width="0.8"/>
<line x1="399.0" y1="216.2" x2="400.5" y2="216.2" stroke="#999" stroke-width="0.8"/>
<line x1="399.0" y1="233.7" x2="400.5" y2="233.7" stroke="#999" stroke-width="0.8"/>
<line x1="399.0" y1="233.8" x2="400.5" y2="233.8" stroke="#999" stroke-width="0.8"/>
<line x1="399.0" y1="251.2" x2="400.5" y2="251.2" stroke="#999" stroke-width="0.8"/>
<line x1="399.0" y1="251.2" x2="400.5" y2="251.2" stroke="#999" stroke-width="0.8"/>
<line x1="399.0" y1="268.8" x2="400.5" y2="268.8" stroke="#999" stroke-width="0.8"/>
<line x1="399.0" y1="268.6" x2="400.5" y2="268.6" stroke="#999" stroke-width="0.8"/>
<line x1="399.0" y1="286.1" x2="400.5" y2="286.1" stroke="#999" stroke-width="0.8"/>
<path d="M409.9,208.0 C411.9,208.0 420.6,206.9 424.6,208.3 C428.6,209.7 435.6,215.6 439.6,218.6 C443.6,221.6 452.2,227.7 454.6,231.0 C457.0,234.3 456.8,240.5 457.5,243.0 C458.2,245.5 459.1,248.7 460.0,250.0 C460.9,251.3 462.4,252.5 464.0,253.0 C465.6,253.5 468.5,252.9 472.0,253.5 C475.5,254.1 485.1,256.5 490.0,257.6 C494.9,258.7 505.0,260.8 509.0,262.0 C513.0,263.2 517.1,265.3 520.0,266.5 C522.9,267.7 529.1,270.4 530.5,271.0" fill="none" stroke="#000" stroke-width="1.45" stroke-dasharray="2.4 3.7"/>
<line x1="409.9" y1="202.6" x2="409.9" y2="213.4" stroke="#a0a0ff" stroke-width="1.3"/>
<line x1="408.9" y1="202.6" x2="410.9" y2="202.6" stroke="#a0a0ff" stroke-width="0.8"/>
<line x1="408.9" y1="213.4" x2="410.9" y2="213.4" stroke="#a0a0ff" stroke-width="0.8"/>
<line x1="424.6" y1="204.1" x2="424.6" y2="212.5" stroke="#a0a0ff" stroke-width="1.3"/>
<line x1="423.6" y1="204.1" x2="425.6" y2="204.1" stroke="#a0a0ff" stroke-width="0.8"/>
<line x1="423.6" y1="212.5" x2="425.6" y2="212.5" stroke="#a0a0ff" stroke-width="0.8"/>
<line x1="454.6" y1="215.2" x2="454.6" y2="246.1" stroke="#a0a0ff" stroke-width="1.3"/>
<line x1="453.6" y1="215.2" x2="455.6" y2="215.2" stroke="#a0a0ff" stroke-width="0.8"/>
<line x1="453.6" y1="246.1" x2="455.6" y2="246.1" stroke="#a0a0ff" stroke-width="0.8"/>
<line x1="459.7" y1="247.0" x2="459.7" y2="267.4" stroke="#a0a0ff" stroke-width="1.3"/>
<line x1="458.7" y1="247.0" x2="460.7" y2="247.0" stroke="#a0a0ff" stroke-width="0.8"/>
<line x1="458.7" y1="267.4" x2="460.7" y2="267.4" stroke="#a0a0ff" stroke-width="0.8"/>
<line x1="472.0" y1="237.4" x2="472.0" y2="261.4" stroke="#a0a0ff" stroke-width="1.3"/>
<line x1="471.0" y1="237.4" x2="473.0" y2="237.4" stroke="#a0a0ff" stroke-width="0.8"/>
<line x1="471.0" y1="261.4" x2="473.0" y2="261.4" stroke="#a0a0ff" stroke-width="0.8"/>
<line x1="509.1" y1="249.4" x2="509.1" y2="274.6" stroke="#a0a0ff" stroke-width="1.3"/>
<line x1="508.1" y1="249.4" x2="510.1" y2="249.4" stroke="#a0a0ff" stroke-width="0.8"/>
<line x1="508.1" y1="274.6" x2="510.1" y2="274.6" stroke="#a0a0ff" stroke-width="0.8"/>
<line x1="530.6" y1="262.9" x2="530.6" y2="279.4" stroke="#a0a0ff" stroke-width="1.3"/>
<line x1="529.6" y1="262.9" x2="531.6" y2="262.9" stroke="#a0a0ff" stroke-width="0.8"/>
<line x1="529.6" y1="279.4" x2="531.6" y2="279.4" stroke="#a0a0ff" stroke-width="0.8"/>
<circle cx="409.9" cy="208.0" r="2.6" fill="#0000ff"/>
<circle cx="424.6" cy="208.0" r="2.6" fill="#0000ff"/>
<circle cx="439.6" cy="218.8" r="2.6" fill="#0000ff"/>
<circle cx="454.6" cy="230.8" r="2.6" fill="#0000ff"/>
<circle cx="459.7" cy="256.9" r="2.6" fill="#0000ff"/>
<circle cx="472.0" cy="249.7" r="2.6" fill="#0000ff"/>
<circle cx="509.1" cy="262.0" r="2.6" fill="#0000ff"/>
<circle cx="530.6" cy="271.0" r="2.6" fill="#0000ff"/>
<text class="lt" x="405.4" y="283.7">k)</text>
<text class="an" style="font-size:12.40px" x="478.05" y="216.70" textLength="39.00" lengthAdjust="spacingAndGlyphs">253-260</text>
<text class="an" style="font-size:12.40px" x="519.25" y="216.70" textLength="14.30" lengthAdjust="spacingAndGlyphs">cm</text>
<text class="sup" x="534.50" y="209.80">-1</text>
<text class="an" style="font-size:11.00px" x="485.80" y="227.60" textLength="7.3" lengthAdjust="spacingAndGlyphs">A</text>
<text class="an" style="font-size:6.4px;stroke-width:0.25px" x="494.30" y="232.20">1</text>
<text class="an" style="font-size:11.00px" x="497.50" y="227.60" textLength="21.70" lengthAdjust="spacingAndGlyphs">(TO)</text>
<line x1="398.0" y1="288.1" x2="400.5" y2="288.1" stroke="#555" stroke-width="1"/>
<text class="tk" x="396.3" y="291.4" text-anchor="end">108</text>
<line x1="398.0" y1="307.6" x2="400.5" y2="307.6" stroke="#555" stroke-width="1"/>
<text class="tk" x="396.3" y="310.9" text-anchor="end">102</text>
<line x1="398.0" y1="327.1" x2="400.5" y2="327.1" stroke="#555" stroke-width="1"/>
<text class="tk" x="396.3" y="330.4" text-anchor="end">96</text>
<line x1="398.0" y1="346.6" x2="400.5" y2="346.6" stroke="#555" stroke-width="1"/>
<text class="tk" x="396.3" y="349.9" text-anchor="end">90</text>
<line x1="398.0" y1="366.1" x2="400.5" y2="366.1" stroke="#555" stroke-width="1"/>
<text class="tk" x="396.3" y="369.4" text-anchor="end">84</text>
<line x1="399.0" y1="297.9" x2="400.5" y2="297.9" stroke="#999" stroke-width="0.8"/>
<line x1="399.0" y1="297.9" x2="400.5" y2="297.9" stroke="#999" stroke-width="0.8"/>
<line x1="399.0" y1="317.4" x2="400.5" y2="317.4" stroke="#999" stroke-width="0.8"/>
<line x1="399.0" y1="317.4" x2="400.5" y2="317.4" stroke="#999" stroke-width="0.8"/>
<line x1="399.0" y1="336.9" x2="400.5" y2="336.9" stroke="#999" stroke-width="0.8"/>
<line x1="399.0" y1="336.9" x2="400.5" y2="336.9" stroke="#999" stroke-width="0.8"/>
<line x1="399.0" y1="356.4" x2="400.5" y2="356.4" stroke="#999" stroke-width="0.8"/>
<line x1="399.0" y1="356.4" x2="400.5" y2="356.4" stroke="#999" stroke-width="0.8"/>
<line x1="399.0" y1="375.9" x2="400.5" y2="375.9" stroke="#999" stroke-width="0.8"/>
<path d="M410.0,351.3 C411.4,351.1 416.0,350.8 418.5,350.4 C421.0,350.0 422.8,350.6 425.0,349.2 C427.2,347.8 429.2,344.6 431.6,342.0 C434.0,339.4 436.9,337.0 439.5,333.3 C442.1,329.6 445.3,323.6 447.5,319.6 C449.7,315.6 451.1,311.9 452.5,309.5 C453.9,307.1 454.9,305.3 456.0,305.0 C457.1,304.7 458.4,306.1 459.3,307.5 C460.2,308.9 460.3,310.4 461.2,313.5 C462.1,316.6 463.4,322.0 464.5,326.0 C465.6,330.0 466.6,333.9 468.0,337.5 C469.4,341.1 470.9,344.9 472.6,347.5 C474.4,350.1 476.3,352.0 478.5,353.3 C480.7,354.6 483.4,355.1 486.0,355.3 C488.6,355.5 491.2,355.1 494.0,354.5 C496.8,353.9 500.2,352.6 502.7,352.0 C505.2,351.4 506.4,350.7 509.0,350.6 C511.6,350.5 515.0,350.6 518.6,351.3 C522.2,352.0 528.5,354.1 530.5,354.7" fill="none" stroke="#000" stroke-width="1.45" stroke-dasharray="2.4 3.7"/>
<line x1="409.9" y1="346.6" x2="409.9" y2="356.5" stroke="#a0a0ff" stroke-width="1.3"/>
<line x1="408.9" y1="346.6" x2="410.9" y2="346.6" stroke="#a0a0ff" stroke-width="0.8"/>
<line x1="408.9" y1="356.5" x2="410.9" y2="356.5" stroke="#a0a0ff" stroke-width="0.8"/>
<line x1="424.6" y1="345.4" x2="424.6" y2="356.5" stroke="#a0a0ff" stroke-width="1.3"/>
<line x1="423.6" y1="345.4" x2="425.6" y2="345.4" stroke="#a0a0ff" stroke-width="0.8"/>
<line x1="423.6" y1="356.5" x2="425.6" y2="356.5" stroke="#a0a0ff" stroke-width="0.8"/>
<line x1="439.6" y1="328.0" x2="439.6" y2="337.0" stroke="#a0a0ff" stroke-width="1.3"/>
<line x1="438.6" y1="328.0" x2="440.6" y2="328.0" stroke="#a0a0ff" stroke-width="0.8"/>
<line x1="438.6" y1="337.0" x2="440.6" y2="337.0" stroke="#a0a0ff" stroke-width="0.8"/>
<line x1="454.6" y1="295.0" x2="454.6" y2="306.4" stroke="#a0a0ff" stroke-width="1.3"/>
<line x1="453.6" y1="295.0" x2="455.6" y2="295.0" stroke="#a0a0ff" stroke-width="0.8"/>
<line x1="453.6" y1="306.4" x2="455.6" y2="306.4" stroke="#a0a0ff" stroke-width="0.8"/>
<line x1="459.7" y1="296.5" x2="459.7" y2="313.0" stroke="#a0a0ff" stroke-width="1.3"/>
<line x1="458.7" y1="296.5" x2="460.7" y2="296.5" stroke="#a0a0ff" stroke-width="0.8"/>
<line x1="458.7" y1="313.0" x2="460.7" y2="313.0" stroke="#a0a0ff" stroke-width="0.8"/>
<line x1="472.0" y1="357.4" x2="472.0" y2="373.6" stroke="#a0a0ff" stroke-width="1.3"/>
<line x1="471.0" y1="357.4" x2="473.0" y2="357.4" stroke="#a0a0ff" stroke-width="0.8"/>
<line x1="471.0" y1="373.6" x2="473.0" y2="373.6" stroke="#a0a0ff" stroke-width="0.8"/>
<line x1="509.1" y1="335.5" x2="509.1" y2="356.5" stroke="#a0a0ff" stroke-width="1.3"/>
<line x1="508.1" y1="335.5" x2="510.1" y2="335.5" stroke="#a0a0ff" stroke-width="0.8"/>
<line x1="508.1" y1="356.5" x2="510.1" y2="356.5" stroke="#a0a0ff" stroke-width="0.8"/>
<line x1="530.6" y1="345.4" x2="530.6" y2="364.6" stroke="#a0a0ff" stroke-width="1.3"/>
<line x1="529.6" y1="345.4" x2="531.6" y2="345.4" stroke="#a0a0ff" stroke-width="0.8"/>
<line x1="529.6" y1="364.6" x2="531.6" y2="364.6" stroke="#a0a0ff" stroke-width="0.8"/>
<circle cx="409.9" cy="351.4" r="2.6" fill="#0000ff"/>
<circle cx="424.6" cy="351.1" r="2.6" fill="#0000ff"/>
<circle cx="439.6" cy="333.1" r="2.6" fill="#0000ff"/>
<circle cx="454.6" cy="301.0" r="2.6" fill="#0000ff"/>
<circle cx="459.7" cy="305.8" r="2.6" fill="#0000ff"/>
<circle cx="472.0" cy="365.2" r="2.6" fill="#0000ff"/>
<circle cx="509.1" cy="346.0" r="2.6" fill="#0000ff"/>
<circle cx="530.6" cy="354.7" r="2.6" fill="#0000ff"/>
<text class="lt" x="405.4" y="377.5">l)</text>
<text class="an" style="font-size:12.40px" x="481.95" y="305.80" textLength="37.30" lengthAdjust="spacingAndGlyphs">111-130</text>
<text class="an" style="font-size:12.40px" x="521.45" y="305.80" textLength="14.20" lengthAdjust="spacingAndGlyphs">cm</text>
<text class="sup" x="536.70" y="298.80">-1</text>
<text class="an" style="font-size:11.40px" x="492.20" y="316.00" textLength="7.3" lengthAdjust="spacingAndGlyphs">A</text>
<text class="an" style="font-size:6.4px;stroke-width:0.25px" x="500.70" y="320.60">1</text>
<text class="an" style="font-size:11.40px" x="503.90" y="316.00" textLength="23.00" lengthAdjust="spacingAndGlyphs">(TO)</text>
<rect x="39.5" y="8.6" width="143.8" height="373.8" fill="none" stroke="#888888" stroke-width="1.05"/>
<line x1="39.5" y1="102.1" x2="183.3" y2="102.1" stroke="#888888" stroke-width="1.5"/>
<line x1="39.5" y1="195.5" x2="183.3" y2="195.5" stroke="#888888" stroke-width="1.5"/>
<line x1="39.5" y1="288.6" x2="183.3" y2="288.6" stroke="#888888" stroke-width="1.5"/>
<line x1="49.5" y1="382.4" x2="49.5" y2="384.4" stroke="#666" stroke-width="0.9"/>
<text class="tk" transform="translate(49.50,393.3) scale(0.86,1)" text-anchor="middle" style="font-size:11px">0</text>
<line x1="61.8" y1="382.4" x2="61.8" y2="383.6" stroke="#666" stroke-width="0.9"/>
<line x1="74.1" y1="382.4" x2="74.1" y2="384.4" stroke="#666" stroke-width="0.9"/>
<text class="tk" transform="translate(74.10,393.3) scale(0.86,1)" text-anchor="middle" style="font-size:11px">5</text>
<line x1="86.4" y1="382.4" x2="86.4" y2="383.6" stroke="#666" stroke-width="0.9"/>
<line x1="98.7" y1="382.4" x2="98.7" y2="384.4" stroke="#666" stroke-width="0.9"/>
<text class="tk" transform="translate(98.70,393.3) scale(0.86,1)" text-anchor="middle" style="font-size:11px">10</text>
<line x1="111.0" y1="382.4" x2="111.0" y2="383.6" stroke="#666" stroke-width="0.9"/>
<line x1="123.3" y1="382.4" x2="123.3" y2="384.4" stroke="#666" stroke-width="0.9"/>
<text class="tk" transform="translate(123.30,393.3) scale(0.86,1)" text-anchor="middle" style="font-size:11px">15</text>
<line x1="135.6" y1="382.4" x2="135.6" y2="383.6" stroke="#666" stroke-width="0.9"/>
<line x1="147.9" y1="382.4" x2="147.9" y2="384.4" stroke="#666" stroke-width="0.9"/>
<text class="tk" transform="translate(147.90,393.3) scale(0.86,1)" text-anchor="middle" style="font-size:11px">20</text>
<line x1="160.2" y1="382.4" x2="160.2" y2="383.6" stroke="#666" stroke-width="0.9"/>
<line x1="172.5" y1="382.4" x2="172.5" y2="384.4" stroke="#666" stroke-width="0.9"/>
<text class="tk" transform="translate(172.50,393.3) scale(0.86,1)" text-anchor="middle" style="font-size:11px">25</text>
<text class="ax" x="69.90" y="404.6" style="font-size:14.6px" textLength="65.8" lengthAdjust="spacingAndGlyphs">mol% BKT</text>
<rect x="216.5" y="8.6" width="143.3" height="373.8" fill="none" stroke="#888888" stroke-width="1.05"/>
<line x1="216.5" y1="102.1" x2="359.8" y2="102.1" stroke="#888888" stroke-width="1.5"/>
<line x1="216.5" y1="195.5" x2="359.8" y2="195.5" stroke="#888888" stroke-width="1.5"/>
<line x1="216.5" y1="288.6" x2="359.8" y2="288.6" stroke="#888888" stroke-width="1.5"/>
<line x1="226.0" y1="382.4" x2="226.0" y2="384.4" stroke="#666" stroke-width="0.9"/>
<text class="tk" transform="translate(226.00,393.3) scale(0.86,1)" text-anchor="middle" style="font-size:11px">0</text>
<line x1="238.4" y1="382.4" x2="238.4" y2="383.6" stroke="#666" stroke-width="0.9"/>
<line x1="250.8" y1="382.4" x2="250.8" y2="384.4" stroke="#666" stroke-width="0.9"/>
<text class="tk" transform="translate(250.84,393.3) scale(0.86,1)" text-anchor="middle" style="font-size:11px">5</text>
<line x1="263.3" y1="382.4" x2="263.3" y2="383.6" stroke="#666" stroke-width="0.9"/>
<line x1="275.7" y1="382.4" x2="275.7" y2="384.4" stroke="#666" stroke-width="0.9"/>
<text class="tk" transform="translate(275.68,393.3) scale(0.86,1)" text-anchor="middle" style="font-size:11px">10</text>
<line x1="288.1" y1="382.4" x2="288.1" y2="383.6" stroke="#666" stroke-width="0.9"/>
<line x1="300.5" y1="382.4" x2="300.5" y2="384.4" stroke="#666" stroke-width="0.9"/>
<text class="tk" transform="translate(300.52,393.3) scale(0.86,1)" text-anchor="middle" style="font-size:11px">15</text>
<line x1="312.9" y1="382.4" x2="312.9" y2="383.6" stroke="#666" stroke-width="0.9"/>
<line x1="325.4" y1="382.4" x2="325.4" y2="384.4" stroke="#666" stroke-width="0.9"/>
<text class="tk" transform="translate(325.36,393.3) scale(0.86,1)" text-anchor="middle" style="font-size:11px">20</text>
<line x1="337.8" y1="382.4" x2="337.8" y2="383.6" stroke="#666" stroke-width="0.9"/>
<line x1="350.2" y1="382.4" x2="350.2" y2="384.4" stroke="#666" stroke-width="0.9"/>
<text class="tk" transform="translate(350.20,393.3) scale(0.86,1)" text-anchor="middle" style="font-size:11px">25</text>
<text class="ax" x="255.00" y="404.6" style="font-size:14.6px" textLength="65.8" lengthAdjust="spacingAndGlyphs">mol% BKT</text>
<rect x="400.5" y="8.6" width="143.4" height="373.8" fill="none" stroke="#888888" stroke-width="1.05"/>
<line x1="400.5" y1="102.1" x2="543.9" y2="102.1" stroke="#888888" stroke-width="1.5"/>
<line x1="400.5" y1="195.5" x2="543.9" y2="195.5" stroke="#888888" stroke-width="1.5"/>
<line x1="400.5" y1="288.6" x2="543.9" y2="288.6" stroke="#888888" stroke-width="1.5"/>
<line x1="410.2" y1="382.4" x2="410.2" y2="384.4" stroke="#666" stroke-width="0.9"/>
<text class="tk" transform="translate(410.20,393.3) scale(0.86,1)" text-anchor="middle" style="font-size:11px">0</text>
<line x1="422.6" y1="382.4" x2="422.6" y2="383.6" stroke="#666" stroke-width="0.9"/>
<line x1="434.9" y1="382.4" x2="434.9" y2="384.4" stroke="#666" stroke-width="0.9"/>
<text class="tk" transform="translate(434.94,393.3) scale(0.86,1)" text-anchor="middle" style="font-size:11px">5</text>
<line x1="447.3" y1="382.4" x2="447.3" y2="383.6" stroke="#666" stroke-width="0.9"/>
<line x1="459.7" y1="382.4" x2="459.7" y2="384.4" stroke="#666" stroke-width="0.9"/>
<text class="tk" transform="translate(459.68,393.3) scale(0.86,1)" text-anchor="middle" style="font-size:11px">10</text>
<line x1="472.0" y1="382.4" x2="472.0" y2="383.6" stroke="#666" stroke-width="0.9"/>
<line x1="484.4" y1="382.4" x2="484.4" y2="384.4" stroke="#666" stroke-width="0.9"/>
<text class="tk" transform="translate(484.42,393.3) scale(0.86,1)" text-anchor="middle" style="font-size:11px">15</text>
<line x1="496.8" y1="382.4" x2="496.8" y2="383.6" stroke="#666" stroke-width="0.9"/>
<line x1="509.2" y1="382.4" x2="509.2" y2="384.4" stroke="#666" stroke-width="0.9"/>
<text class="tk" transform="translate(509.16,393.3) scale(0.86,1)" text-anchor="middle" style="font-size:11px">20</text>
<line x1="521.5" y1="382.4" x2="521.5" y2="383.6" stroke="#666" stroke-width="0.9"/>
<line x1="533.9" y1="382.4" x2="533.9" y2="384.4" stroke="#666" stroke-width="0.9"/>
<text class="tk" transform="translate(533.90,393.3) scale(0.86,1)" text-anchor="middle" style="font-size:11px">25</text>
<text class="ax" x="439.20" y="404.6" style="font-size:14.6px" textLength="65.8" lengthAdjust="spacingAndGlyphs">mol% BKT</text>
<text transform="translate(15.40,221.20) rotate(-90)" style="font-size:12.60px" textLength="58.20" lengthAdjust="spacingAndGlyphs">Center (cm</text>
<text transform="translate(7.90,161.80) rotate(-90)" style="font-size:7.40px">-1</text>
<text transform="translate(15.40,155.40) rotate(-90)" style="font-size:12.60px">)</text>
<text transform="translate(205.8,188.3) rotate(-90)" text-anchor="middle" style="font-size:15.1px">Intensity (a.u.)</text>
<text transform="translate(380.50,231.60) rotate(-90)" style="font-size:15.00px" textLength="79.00" lengthAdjust="spacingAndGlyphs">FWHM (cm</text>
<text transform="translate(372.60,153.60) rotate(-90)" style="font-size:8.60px">-1</text>
<text transform="translate(380.50,145.40) rotate(-90)" style="font-size:15.00px">)</text>
</svg>
</body></html>
